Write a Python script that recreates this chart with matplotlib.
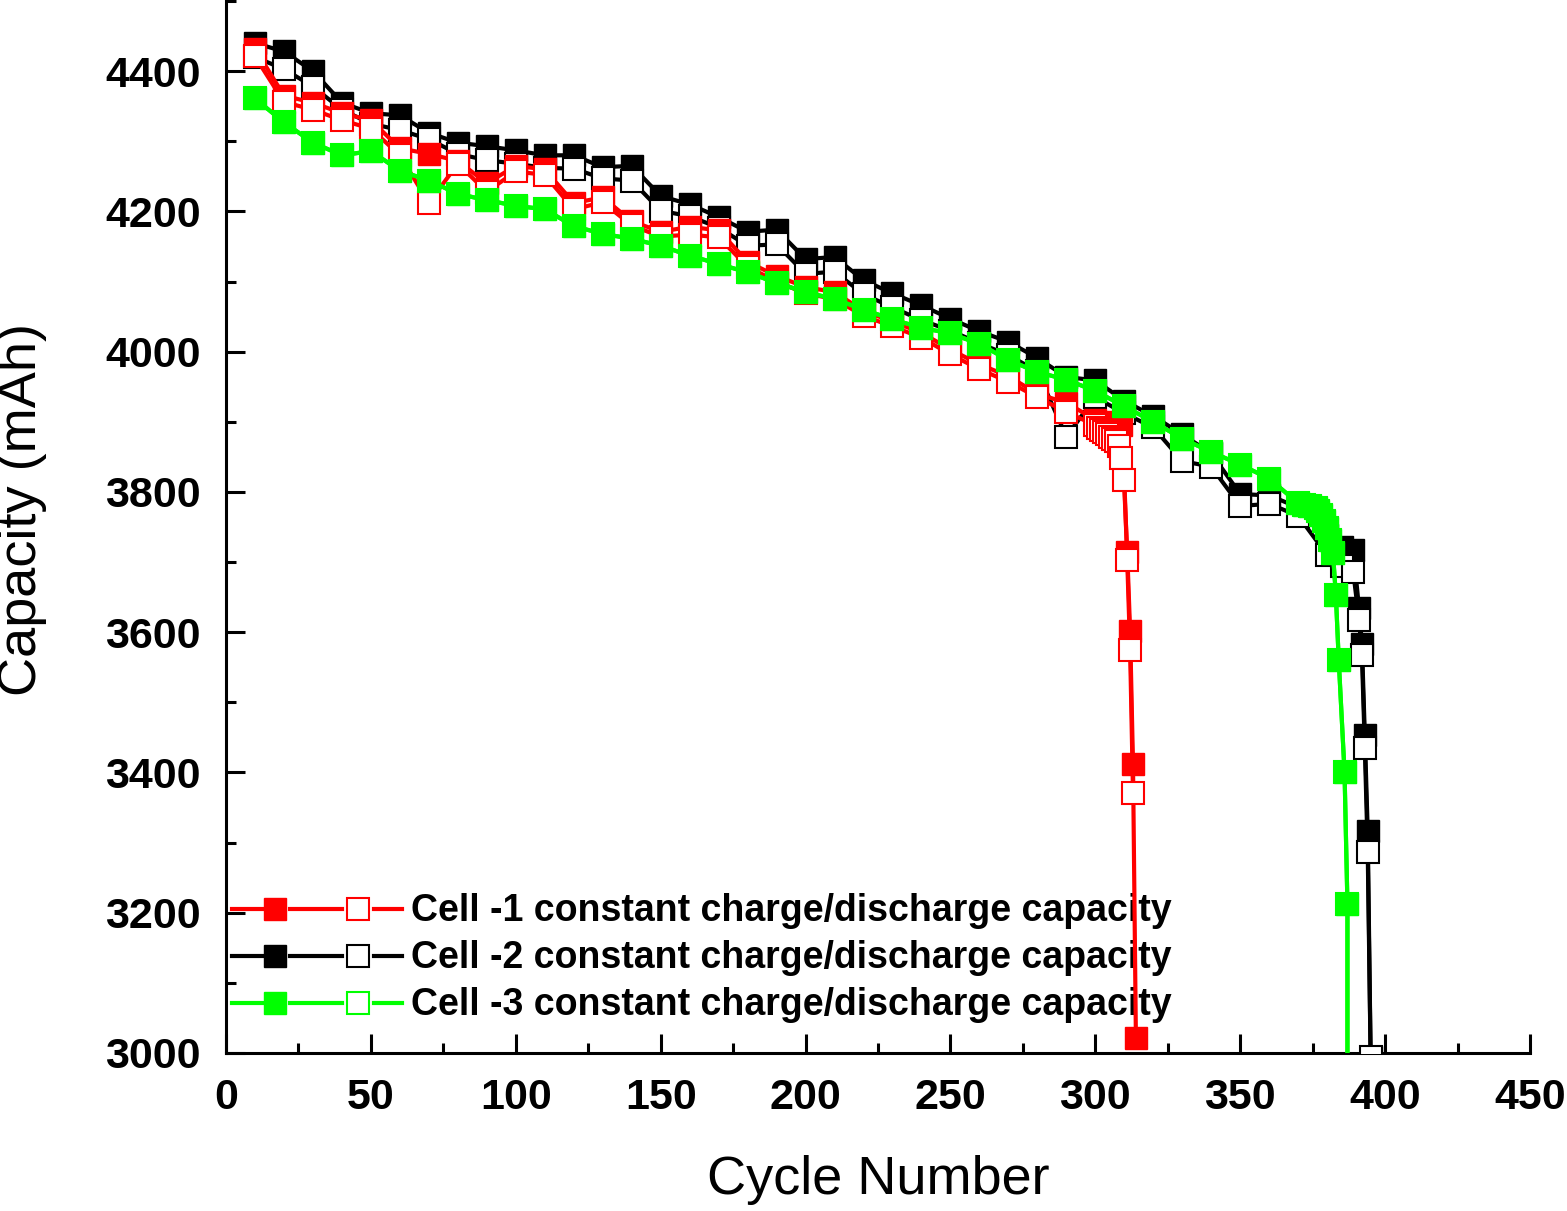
import matplotlib
matplotlib.use("Agg")
import matplotlib.pyplot as plt
from matplotlib.ticker import MultipleLocator

plt.rcParams['font.family'] = ['Liberation Sans', 'DejaVu Sans']

## Data
# Cell 1 (red)
c1_chg_cyc = [10, 20, 30, 40, 50, 60, 70, 80, 90, 100, 110, 120, 130, 140, 150, 160,
              170, 180, 190, 200, 210, 220, 230, 240, 250, 260, 270, 280, 290, 300,
              303, 306, 309, 311, 312, 313, 314]
c1_chg = [4432, 4365, 4355, 4340, 4330, 4290, 4282, 4272, 4240, 4265, 4260, 4212, 4220,
          4186, 4171, 4178, 4173, 4128, 4108, 4092, 4085, 4058, 4043, 4027, 4003, 3982,
          3965, 3940, 3927, 3903, 3900, 3898, 3895, 3715, 3602, 3412, 3021]
c1_dis_cyc = [10, 20, 30, 40, 50, 60, 70, 80, 90, 100, 110, 120, 130, 140, 150, 160,
              170, 180, 190, 200, 210, 220, 230, 240, 250, 260, 270, 280, 290, 300,
              301, 302, 303, 304, 305, 306, 307, 308, 309, 310, 311, 312, 313]
c1_dis = [4421, 4356, 4345, 4330, 4318, 4280, 4212, 4268, 4228, 4257, 4252, 4203, 4213,
          4180, 4164, 4167, 4163, 4121, 4100, 4083, 4075, 4051, 4036, 4020, 3996, 3975,
          3957, 3935, 3914, 3895, 3891, 3888, 3885, 3882, 3879, 3876, 3872, 3866, 3848,
          3817, 3703, 3575, 3371]

# Cell 2 (black)
c2_cyc = [10, 20, 30, 40, 50, 60, 70, 80, 90, 100, 110, 120, 130, 140, 150, 160, 170,
          180, 190, 200, 210, 220, 230, 240, 250, 260, 270, 280, 290, 300, 310, 320, 330,
          340, 350, 360, 370, 380, 385, 389, 391, 392, 393, 394, 395]
c2_chg = [4440, 4428, 4400, 4355, 4340, 4337, 4312, 4298, 4293, 4287, 4280, 4280, 4263,
          4265, 4222, 4210, 4192, 4171, 4174, 4132, 4135, 4102, 4083, 4066, 4047, 4029,
          4014, 3991, 3964, 3959, 3930, 3908, 3882, 3855, 3797, 3795, 3778, 3738, 3722,
          3717, 3634, 3583, 3453, 3316, 2995]
c2_dis = [4420, 4403, 4378, 4345, 4325, 4316, 4303, 4282, 4273, 4268, 4262, 4261, 4247,
          4244, 4201, 4193, 4177, 4151, 4153, 4111, 4114, 4082, 4063, 4045, 4030, 4012,
          3995, 3972, 3879, 3935, 3912, 3892, 3844, 3836, 3780, 3783, 3766, 3710, 3695,
          3686, 3618, 3567, 3435, 3287, 2995]

# Cell 3 (green)
c3_cyc = [10, 20, 30, 40, 50, 60, 70, 80, 90, 100, 110, 120, 130, 140, 150, 160, 170,
          180, 190, 200, 210, 220, 230, 240, 250, 260, 270, 280, 290, 300, 310, 320, 330,
          340, 350, 360, 370, 372, 374, 376, 377, 378, 379, 380, 381, 382, 383, 384, 386,
          387, 387]
c3_chg = [4361, 4327, 4298, 4280, 4286, 4258, 4244, 4225, 4216, 4208, 4203, 4179, 4168,
          4161, 4151, 4137, 4125, 4113, 4098, 4085, 4075, 4060, 4046, 4034, 4026, 4011,
          3988, 3971, 3960, 3944, 3922, 3900, 3876, 3857, 3839, 3819, 3784, 3782, 3780,
          3777, 3773, 3767, 3759, 3748, 3732, 3713, 3653, 3560, 3400, 3212, 2950]
c3_dis = c3_chg

labels = ['Cell -1 constant charge/discharge capacity',
          'Cell -2 constant charge/discharge capacity',
          'Cell -3 constant charge/discharge capacity']
colors = ['#ff0000', '#000000', '#00ff00']

fig = plt.figure(figsize=(15.67, 12.11), dpi=100)
ax = fig.add_axes([226/1567, 1-1053/1211, 1304/1567, 1052/1211])

ms = 16
lw = 3
mew = 1.5
# Cell 2
ax.plot(c2_cyc, c2_chg, '-s', color=colors[1], ms=ms, mec=colors[1], lw=lw, zorder=3)
ax.plot(c2_cyc, c2_dis, '-s', color=colors[1], ms=ms, mfc='white', mec=colors[1], mew=mew, lw=lw, zorder=4)
# Cell 1
ax.plot(c1_chg_cyc, c1_chg, '-s', color=colors[0], ms=ms, mec=colors[0], lw=lw, zorder=5)
ax.plot(c1_dis_cyc, c1_dis, '-s', color=colors[0], ms=ms, mfc='white', mec=colors[0], mew=mew, lw=lw, zorder=6)
# Cell 3
ax.plot(c3_cyc, c3_dis, '-s', color=colors[2], ms=ms, mfc='white', mec=colors[2], mew=mew, lw=lw, zorder=7)
ax.plot(c3_cyc, c3_chg, '-s', color=colors[2], ms=ms, mec=colors[2], lw=lw, zorder=8)

ax.set_xlim(0, 450)
ax.set_ylim(3000, 4500)
ax.xaxis.set_major_locator(MultipleLocator(50))
ax.xaxis.set_minor_locator(MultipleLocator(25))
ax.yaxis.set_major_locator(MultipleLocator(200))
ax.yaxis.set_minor_locator(MultipleLocator(100))
ax.set_yticks([3000, 3200, 3400, 3600, 3800, 4000, 4200, 4400])

for s in ['top', 'right']:
    ax.spines[s].set_visible(False)
for s in ['left', 'bottom']:
    ax.spines[s].set_linewidth(2.2)

ax.tick_params(which='major', direction='in', length=14, width=2.2, labelsize=31, pad=18)
ax.tick_params(which='minor', direction='in', length=7, width=2.2)
for lab in ax.get_xticklabels() + ax.get_yticklabels():
    lab.set_fontweight('bold')

ax.set_xlabel('Cycle Number', fontsize=39)
ax.set_ylabel('Capacity (mAh)', fontsize=39)
ax.xaxis.set_label_coords(0.5, -0.097)
ax.yaxis.set_label_coords(-0.137, 0.517)

# legend drawn by hand (line - filled - line - open - line)
rows = [0.1369, 0.0922, 0.0475]
for y, c, lab in zip(rows, colors, labels):
    for x0, x1 in [(0.0046, 0.0276), (0.0491, 0.0890), (0.1135, 0.1350)]:
        ax.plot([x0, x1], [y, y], '-', color=c, lw=lw, transform=ax.transAxes, clip_on=False, zorder=9)
    ax.plot([0.0376], [y], 's', color=c, ms=ms, mec=c, transform=ax.transAxes, clip_on=False, zorder=9)
    ax.plot([0.1012], [y], 's', ms=ms, mfc='white', mec=c, mew=mew, transform=ax.transAxes, clip_on=False, zorder=9)
    ax.text(0.1419, y - 0.0114, lab, transform=ax.transAxes, fontsize=27, fontweight='bold',
            va='baseline', ha='left', zorder=1)

fig.savefig('out.png', dpi=100)
